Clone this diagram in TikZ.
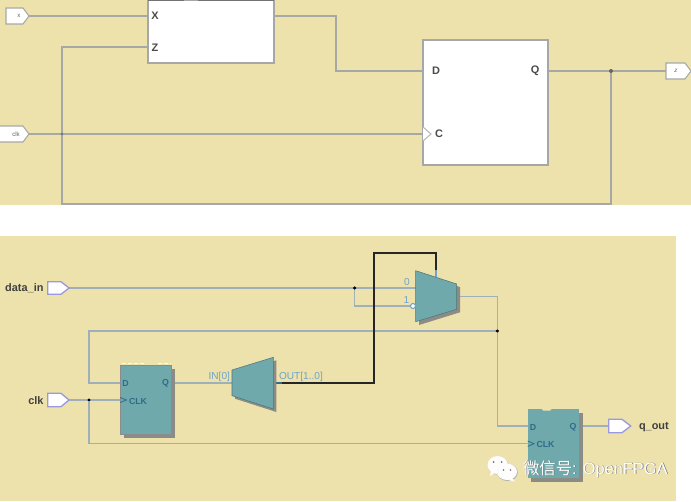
\documentclass[tikz,border=0pt]{standalone}
\usepackage{fontspec}
\setmainfont{Liberation Sans}
\newfontfamily\cjk{Noto Sans CJK SC}
\usetikzlibrary{calc}
\pgfdeclarelayer{dots}
\pgfsetlayers{main,dots}
\definecolor{bgc}{HTML}{EEE2AC}
\definecolor{teal1}{HTML}{70A9AC}
\definecolor{wireA}{HTML}{A6A8A8}
\definecolor{wireB}{HTML}{9FB0BA}
\definecolor{shadowc}{HTML}{8C8C86}
\definecolor{portc}{HTML}{9A98E0}
\definecolor{pinlab}{HTML}{6FA3C8}
\definecolor{fflab}{HTML}{2F6C88}
\definecolor{toplab}{HTML}{4A4A4A}
\def\px{0.75pt}
\tikzset{
  x=0.75pt,y=-0.75pt,
  every node/.style={inner sep=0pt,outer sep=0pt},
  bigbox/.style={draw=wireA,line width=1pt,fill=white,anchor=north west},
  wiretop/.style={draw=wireA,line width=1pt},
  wirebot/.style={draw=wireB,line width=1pt},
  thickbus/.style={draw=black!85,line width=1.7pt},
  tealff/.style={draw=black!45,line width=.5pt,fill=teal1,anchor=north west},
  tealmux/.style={fill=teal1,draw=teal1!70!black,line width=.4pt},
  shadowmux/.style={fill=shadowc},
  portt/.style={draw=wireA,line width=.8pt,fill=white},
  portb/.style={draw=portc,line width=1pt,fill=white},
  joint/.style={circle,fill=#1,minimum size=2.6pt},
  toptext/.style={font=\bfseries\fontsize{8.2}{10}\selectfont,text=toplab},
  tiny/.style={font=\fontsize{4.6}{6}\selectfont,text=black!60},
  sigtext/.style={font=\bfseries\fontsize{8.2}{10}\selectfont,text=black!75},
  fftext/.style={font=\bfseries\fontsize{6.6}{8}\selectfont,text=fflab},
  pintext/.style={font=\fontsize{7.6}{9}\selectfont,text=pinlab},
}
\begin{document}
\begin{tikzpicture}
\useasboundingbox (0,0) rectangle (691,502);
\fill[white] (0,0) rectangle (691,502);
\fill[bgc] (0,0) rectangle (691,205);
\fill[bgc] (0,236) rectangle (676,501);

% ---------- top schematic ----------
\node[bigbox,minimum width=126*\px,minimum height=63*\px] (lut) at (148,0) {};
\node[bigbox,minimum width=125*\px,minimum height=125*\px] (dff) at (423,40) {};
\draw[black!55,line width=1.2pt] (148,0.6) -- (184,0.6) (198,0.6) -- (274,0.6);

\coordinate (xpin) at (148,16);
\coordinate (zpin) at (148,47);
\coordinate (lutout) at (274,16);
\coordinate (dpin) at (423,71);
\coordinate (cpin) at (423,134);
\coordinate (qpin) at (548,71);
\coordinate (xport) at (29,16);
\coordinate (clkport) at (29,134);
\coordinate (zport) at (666,71);
\coordinate (fbl) at (62,204);
\begin{pgfonlayer}{dots}
\node[joint=wireA!60!black,minimum size=3pt] (fbj) at (611,71) {};
\node[joint=wireA!70!black,minimum size=2pt] (cj) at (62,134) {};
\end{pgfonlayer}

\draw[wiretop] (xport) -- (xpin);
\draw[wiretop] (lutout) -- (336,16) -- (336,71) -- (dpin);
\draw[wiretop] (clkport) -- (cpin);
\draw[wiretop] (qpin) -- (zport);
\draw[wiretop] (fbj) -- (611,204) -- (fbl) -- (62,47) -- (zpin);
\draw[draw=wireA!80,line width=.8pt,fill=white] (423,127) -- (431,134) -- (423,141);

\draw[portt] (6,8) -- (23,8) -- (29,16) -- (23,24) -- (6,24) -- cycle;
\draw[portt] (-2,126) -- (23,126) -- (29,134) -- (23,142) -- (-2,142) -- cycle;
\draw[portt] (666,63) -- (685,63) -- (691,71) -- (685,79) -- (666,79) -- cycle;

\node[tiny] (xlab) at (19,16) {x};
\node[tiny] (clklab) at (16,134) {clk};
\node[tiny,font=\itshape\fontsize{4.6}{6}\selectfont] (zlab) at (676,71) {z};
\node[toptext] (lx) at (155,16) {X};
\node[toptext] (lz) at (155,47.5) {Z};
\node[toptext] (ld) at (436,70.5) {D};
\node[toptext] (lq) at (535,70.5) {Q};
\node[toptext] (lc) at (439,133.5) {C};

% ---------- bottom schematic ----------
\coordinate (dport) at (69,288);
\coordinate (cport) at (69,400);
\coordinate (m0) at (415.7,288);
\coordinate (m1) at (410,306);
\coordinate (mout) at (456.7,296.5);
\coordinate (msel) at (436,276.5);
\coordinate (f1d) at (120,383);
\coordinate (f1c) at (120,400);
\coordinate (f1q) at (171,383);
\coordinate (decin) at (232,383);
\coordinate (decout) at (273.3,382.7);
\coordinate (f2d) at (527.7,426);
\coordinate (f2c) at (527.7,443.7);
\coordinate (f2q) at (579,426);
\coordinate (oport) at (608.7,426);
\begin{pgfonlayer}{dots}
\node[joint=black] (jd) at (354.7,288) {};
\node[joint=black] (jf) at (497.3,331) {};
\node[joint=black] (jc) at (89,400) {};
\end{pgfonlayer}

\draw[wirebot] (dport) -- (m0);
\draw[wirebot] (jd) |- (m1);
\draw[wirebot] (mout) -| (jf);
\draw[wirebot] (jf) |- (f2d);
\draw[wirebot] (jf) -- (89,331) -- (89,383) -- (f1d);
\draw[wirebot] (f1q) -- (decin);
\draw[wirebot] (cport) -- (f1c);
\draw[wirebot] (jc) |- (f2c);
\draw[wirebot] (f2q) -- (oport);
\draw[thickbus,line cap=round,line join=miter] (decout) -- (374,382.7) -- (374,252.7) -- (436,252.7) -- (436,271);
\draw[draw=pinlab,line width=1pt] (436,270) -- (msel);
\draw[draw=fflab,line width=1.7pt] (decout) -- (282,382.7);

% mux
\fill[shadowmux] (419,274) -- (460,287) -- (460,312.3) -- (419,325) -- cycle;
\path[tealmux,draw] (415.7,270.7) -- (456.7,284) -- (456.7,309.3) -- (415.7,321.7) -- cycle;
\node[pintext] (m0lab) at (407,282.5) {0};
\node[pintext] (m1lab) at (406.5,300.5) {1};
\draw[draw=pinlab,line width=.8pt,fill=white] (413,306) circle (2.5);

% decoder
\fill[shadowmux] (235,373) -- (276.3,360.3) -- (276.3,412) -- (235,398.7) -- cycle;
\path[tealmux,draw] (232,370) -- (273.3,357.3) -- (273.3,409) -- (232,395.7) -- cycle;
\node[pintext,anchor=east] (inlab) at (230,377) {IN[0]};
\node[pintext,anchor=west] (outlab) at (279,377) {OUT[1..0]};

% flip-flops
\fill[shadowc] (123.5,369) rectangle (174.5,437.5);
\node[tealff,minimum width=51*\px,minimum height=69*\px] (ffa) at (120,365.3) {};
\draw[white!85!bgc,line width=.6pt,dash pattern=on 3pt off 1.5pt] (122,363.8) -- (144,363.8) (158,363.8) -- (171,363.8);
\node[fftext] (fad) at (125.5,383.5) {D};
\node[fftext] (faq) at (165.5,383.5) {Q};
\node[fftext,anchor=west] (fac) at (129,401) {CLK};
\draw[fflab,line width=.6pt] (120,397.5) -- (126.5,400) -- (120,402.5);

\fill[shadowc] (531,412.5) rectangle (582.5,481.5);
\node[tealff,draw=none,minimum width=51.3*\px,minimum height=69*\px] (ffb) at (527.7,409) {};
\fill[bgc] (541,408.5) -- (543,410.5) -- (550,410.5) -- (552,408.5) -- cycle;
\node[fftext] (fbd) at (533,427) {D};
\node[fftext] (fbq) at (573,427) {Q};
\node[fftext,anchor=west] (fbc) at (536.5,444) {CLK};
\draw[fflab,line width=.6pt] (527.7,441) -- (534,443.7) -- (527.7,446.4);

% signal ports
\draw[portb] (47.7,281.7) -- (61,281.7) -- (69,288) -- (61,294.3) -- (47.7,294.3) -- cycle;
\draw[portb] (47.7,393.3) -- (61,393.3) -- (69,400) -- (61,406.7) -- (47.7,406.7) -- cycle;
\draw[portb] (608.7,419.3) -- (622,419.3) -- (630.7,426) -- (622,432.7) -- (608.7,432.7) -- cycle;
\node[sigtext,anchor=east] (ldata) at (43.5,288.5) {data\_in};
\node[sigtext,anchor=east] (lclk) at (43.5,400.5) {clk};
\node[sigtext,anchor=west] (lqout) at (639,427) {q\_out};

% watermark
\fill[black!22] (498.3,465.6) ellipse (10.5 and 9.4);
\fill[white!95!bgc] (497.7,465) ellipse (10.2 and 9);
\fill[white!95!bgc] (491,471) -- (490,476) -- (496,472) -- cycle;
\fill[black!55] (493.5,462) circle (1) (501.5,462) circle (1);
\fill[black!30] (507.5,472.4) ellipse (10.3 and 8.6);
\fill[white!95!bgc] (507,471.8) ellipse (10 and 8.2);
\fill[white!95!bgc] (512,478) -- (515,481.5) -- (508,480) -- cycle;
\fill[black!55] (503.5,470) circle (.9) (510.5,470) circle (.9);
\node[anchor=west,text=black!55,font=\fontsize{12.3}{14}\selectfont] (wms) at (523.6,469.6) {{\cjk 微信号}: OpenFPGA};
\node[anchor=west,text=white,font=\fontsize{12.3}{14}\selectfont] (wm) at (523,469) {{\cjk 微信号}: OpenFPGA};
\end{tikzpicture}
\end{document}
